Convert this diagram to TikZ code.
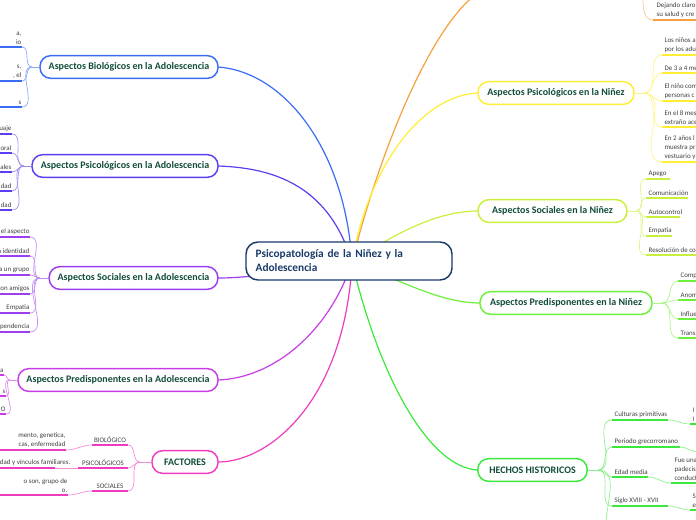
\documentclass[tikz,border=0pt]{standalone}
\usepackage{fontspec}
\setmainfont{Carlito}
\definecolor{cbio}{HTML}{3A6CF4}
\definecolor{cpsa}{HTML}{5A3FF0}
\definecolor{csoa}{HTML}{9B3FF0}
\definecolor{cpra}{HTML}{C83CE8}
\definecolor{cfac}{HTML}{EE3CC0}
\definecolor{cora}{HTML}{F7A040}
\definecolor{cpsn}{HTML}{FFEE33}
\definecolor{cson}{HTML}{C8F03C}
\definecolor{cprn}{HTML}{6CF03C}
\definecolor{chis}{HTML}{3CE83C}
\definecolor{ctxt}{HTML}{124D3C}
\definecolor{ccen}{HTML}{1A3A6A}
\tikzset{
 mainbox/.style={draw=#1,line width=1.1pt,rounded corners=8pt,fill=white,font=\bfseries\fontsize{7.5}{9}\selectfont,text=ctxt,minimum height=17pt,inner sep=2pt},
 mainline/.style={draw=#1,line width=0.9pt},
 leaftxt/.style={font=\fontsize{5.2}{6.8}\selectfont,text=black!75,inner sep=1pt},
 leafcurve/.style={draw=#1!60,line width=0.5pt},
 leafline/.style={draw=#1,line width=1.3pt},
}
% left leaf: color, bx, by, ex, uy, x0, text
\newcommand\myleafL[7]{%
 \draw[leafcurve=#1] (#2,#3) to[out=180,in=0] (#4,#5);
 \draw[leafline=#1] (#4,#5) -- (#6,#5);
 \node[leaftxt,anchor=south east,align=right] at (#4+1,#5-1) {#7};}
% right leaf: color, bx, by, ex, uy, x1, text
\newcommand\myleafR[7]{%
 \draw[leafcurve=#1] (#2,#3) to[out=0,in=180] (#4,#5);
 \draw[leafline=#1] (#4,#5) -- (#6,#5);
 \node[leaftxt,anchor=south west,align=left] at (#4+1,#5-1) {#7};}
\begin{document}
\begin{tikzpicture}[x=0.75pt,y=-0.75pt]
\useasboundingbox (0,0) rectangle (696,520);
\clip (0,0) rectangle (696,520);
\fill[white] (0,0) rectangle (696,520);
\coordinate (c) at (352,262);
% main connectors
\draw[mainline=cora] (c) .. controls (380,150) and (430,30) .. (475,-5);
\draw[mainline=cbio] (c) .. controls (345,150) and (285,72) .. (218,67);
\draw[mainline=cpsa] (c) .. controls (330,190) and (280,168) .. (218,166);
\draw[mainline=csoa] (c) .. controls (300,268) and (260,278) .. (218,278);
\draw[mainline=cpra] (c) .. controls (330,330) and (275,378) .. (218,380);
\draw[mainline=cfac] (c) .. controls (345,400) and (270,462) .. (218,462);
\draw[mainline=cpsn] (c) .. controls (370,160) and (425,95) .. (478,93);
\draw[mainline=cson] (c) .. controls (400,230) and (440,211) .. (478,211);
\draw[mainline=cprn] (c) .. controls (400,280) and (440,303) .. (480,303);
\draw[mainline=chis] (c) .. controls (380,380) and (430,468) .. (478,470);
% nodes
\node[draw=ccen,line width=1.1pt,rounded corners=9pt,fill=white,minimum width=154.5pt,minimum height=28.5pt,align=left,text width=140pt,font=\bfseries\fontsize{8.5}{10.5}\selectfont,text=ccen] (center) at (349,261) {Psicopatología de la Niñez y la\\Adolescencia};
\node[mainbox=cbio,minimum width=133.5pt] (bio) at (129,67) {Aspectos Biológicos en la Adolescencia};
\node[mainbox=cpsa,minimum width=139.5pt] (psa) at (125,166) {Aspectos Psicológicos en la Adolescencia};
\node[mainbox=csoa,minimum width=126.5pt] (soa) at (133.5,278) {Aspectos Sociales en la Adolescencia};
\node[mainbox=cpra,minimum width=150pt] (pra) at (118,380) {Aspectos Predisponentes en la Adolescencia};
\node[mainbox=cfac,minimum width=49.5pt] (fac) at (185,462) {FACTORES};
\node[mainbox=cpsn,minimum width=117pt] (psn) at (556,93) {Aspectos Psicológicos en la Niñez};
\node[mainbox=cson,minimum width=111.5pt] (son) at (552.5,211) {Aspectos Sociales en la Niñez};
\node[mainbox=cprn,minimum width=129pt] (prn) at (566,303) {Aspectos Predisponentes en la Niñez};
\node[mainbox=chis,minimum width=82pt] (his) at (532.5,470) {HECHOS HISTORICOS};
% stubs
\draw[leafcurve=cbio] (bio.west) -- (32,67);
\draw[leafcurve=cpsa] (psa.west) -- (24,166);
\draw[leafcurve=csoa] (soa.west) -- (40,278);
\draw[leafcurve=cpra] (pra.west) -- (10,380);
\draw[leafcurve=cfac] (fac.west) -- (140,462);
\draw[leafcurve=cpsn] (psn.east) -- (644,93);
\draw[leafcurve=cson] (son.east) -- (636,211);
\draw[leafcurve=cprn] (prn.east) -- (662,303);
\draw[leafcurve=chis] (his.east) -- (598,470);
% Biologicos
\myleafL{cbio}{32}{67}{22}{47}{0}{a,\\io}
\myleafL{cbio}{32}{67}{22}{81}{0}{s,\\, el}
\myleafL{cbio}{32}{67}{22}{107}{0}{s}
% Psicologicos adol
\myleafL{cpsa}{24}{166}{12}{134}{0}{uaje}
\myleafL{cpsa}{24}{166}{12}{153}{0}{oral}
\myleafL{cpsa}{24}{166}{12}{172}{0}{ales}
\myleafL{cpsa}{24}{166}{12}{191}{0}{dad}
\myleafL{cpsa}{24}{166}{12}{210}{0}{dad}
% Sociales adol
\myleafL{csoa}{40}{278}{30}{237}{0}{r el aspecto}
\myleafL{csoa}{40}{278}{30}{256}{0}{a identidad}
\myleafL{csoa}{40}{278}{30}{275}{0}{a un grupo}
\myleafL{csoa}{40}{278}{30}{294}{0}{on amigos}
\myleafL{csoa}{40}{278}{30}{313}{0}{Empatia}
\myleafL{csoa}{40}{278}{30}{332}{0}{ependencia}
% Predisponentes adol
\myleafL{cpra}{10}{380}{4}{375}{0}{a}
\myleafL{cpra}{10}{380}{6}{396}{0}{s}
\myleafL{cpra}{10}{380}{6}{414}{0}{O}
% Factores
\draw[leafcurve=cfac] (140,462) to[out=180,in=0] (128,445);
\draw[leafline=cfac] (128,445) -- (92,445);
\node[leaftxt,anchor=south] at (110,444) {BIOLÓGICO};
\draw[leafcurve=cfac] (140,462) to[out=180,in=0] (128,468);
\draw[leafline=cfac] (128,468) -- (78,468);
\node[leaftxt,anchor=south] at (103,467) {PSICOLÓGICOS};
\draw[leafcurve=cfac] (140,462) to[out=180,in=0] (128,491);
\draw[leafline=cfac] (128,491) -- (92,491);
\node[leaftxt,anchor=south] at (110,490) {SOCIALES};
\myleafL{cfac}{92}{445}{66}{450}{0}{mento, genetica,\\cas, enfermedad}
\draw[leafcurve=cfac] (78,468) -- (55,468);
\draw[leafline=cfac] (55,468) -- (0,468);
\node[leaftxt,anchor=south east] at (72,467) {dad y vínculos familiares.};
\myleafL{cfac}{92}{491}{68}{495}{0}{o son, grupo de\\o.}
% orange
\draw[leafcurve=cora] (643,-5) to[out=-90,in=180] (653,20);
\draw[leafline=cora] (653,20) -- (696,20);
\node[leaftxt,anchor=south west,align=left] at (655,19) {Dejando claro\\su salud y cre};
% Psicologicos ninez
\myleafR{cpsn}{644}{93}{662}{55}{696}{Los niños a\\por los adu}
\myleafR{cpsn}{644}{93}{662}{73}{696}{De 3 a 4 me}
\myleafR{cpsn}{644}{93}{662}{101}{696}{El niño com\\personas c}
\myleafR{cpsn}{644}{93}{662}{127}{696}{En el 8 mes\\extraño ace}
\myleafR{cpsn}{644}{93}{662}{162}{696}{En 2 años l\\muestra pr\\vestuario y}
% Sociales ninez
\myleafR{cson}{636}{211}{646}{179}{670}{Apego}
\myleafR{cson}{636}{211}{646}{198}{688}{Comunicación}
\myleafR{cson}{636}{211}{646}{217}{680}{Autocontrol}
\myleafR{cson}{636}{211}{646}{236}{672}{Empatia}
\myleafR{cson}{636}{211}{646}{255}{696}{Resolución de co}
% Predisponentes ninez
\myleafR{cprn}{662}{303}{678}{281}{696}{Comp}
\myleafR{cprn}{662}{303}{678}{300}{696}{Anom}
\myleafR{cprn}{662}{303}{678}{319}{696}{Influe}
\myleafR{cprn}{662}{303}{678}{338}{696}{Trans}
% Historicos
\myleafR{chis}{598}{470}{612}{420}{668}{Culturas primitivas}
\myleafR{chis}{598}{470}{612}{447}{680}{Periodo grecorromano}
\myleafR{chis}{598}{470}{612}{477}{648}{Edad media}
\myleafR{chis}{598}{470}{612}{506}{668}{Siglo XVIII - XVII}
\draw[leafcurve=chis] (598,470) to[out=0,in=90] (606,525);
\myleafR{chis}{668}{420}{690}{424}{696}{I\\I}
\draw[leafcurve=chis] (680,447) to[out=0,in=180] (698,452);
\draw[leafcurve=chis] (648,477) to[out=0,in=180] (671,483);
\draw[leafline=chis] (671,483) -- (696,483);
\node[leaftxt,anchor=south west,align=left] at (673,482) {Fue una\\padecis\\conduct};
\myleafR{chis}{668}{506}{690}{510}{696}{S\\e}
\end{tikzpicture}
\end{document}
